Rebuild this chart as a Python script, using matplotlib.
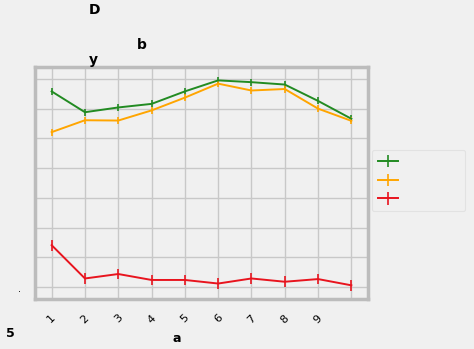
import numpy as np
import matplotlib
matplotlib.use('Agg')
import matplotlib.pyplot as plt

################################################################################
# data
x = np.arange(10)
tick_labels = ['1', '2', '3', '4', '5', '6', '7', '8', '9', '']
green  = [6.58, 5.88, 6.04, 6.16, 6.58, 6.95, 6.89, 6.81, 6.26, 5.66]
orange = [5.21, 5.61, 5.60, 5.94, 6.37, 6.84, 6.61, 6.66, 6.00, 5.59]
red    = [1.41, 0.29, 0.44, 0.24, 0.24, 0.12, 0.29, 0.18, 0.27, 0.06]
err_green  = [0.12] * 10
err_orange = [0.12] * 10
err_red    = [0.18] * 10

bg = '#f0f0f0'
fig = plt.figure(figsize=(4.74, 3.49), dpi=100, facecolor=bg)
ax = fig.add_axes([35/474, 1-299/349, 333/474, 232/349], facecolor=bg)

ax.errorbar(x, green, yerr=err_green, color='#228b22', lw=1.4, elinewidth=1.2, label=' ')
ax.errorbar(x, orange, yerr=err_orange, color='#ffa500', lw=1.4, elinewidth=1.2, label=' ')
ax.errorbar(x, red, yerr=err_red, color='#e8141e', lw=1.4, elinewidth=1.2, label=' ')

ax.set_xlim(-0.5, 9.5)
ax.set_ylim(-0.4, 7.4)
ax.set_xticks(x)
ax.set_xticklabels(tick_labels, rotation=45, fontsize=8)
ax.set_yticks(np.arange(0, 8))
ax.set_yticklabels([''] * 8)
ax.tick_params(length=0, pad=10)
ax.grid(True, color='#c8c8c8', lw=1)
ax.set_axisbelow(True)
for s in ax.spines.values():
    s.set_color('#bcbcbc')
    s.set_linewidth(2.5)

leg = ax.legend(loc='center left', bbox_to_anchor=(1.012, 0.51), borderaxespad=0,
                frameon=True, facecolor=bg, edgecolor='#e2e2e2', fontsize=9,
                handlelength=1.6, handletextpad=0.5, borderpad=0.45, labelspacing=0.45)
leg.get_frame().set_linewidth(0.8)
leg.get_frame().set_alpha(1)
# legend box is wider than its entries
for t in leg.get_texts():
    t.set_text('              ')

fig.text(0.20, 0.971, 'D', fontsize=10, fontweight='bold', ha='center', va='center')
fig.text(0.30, 0.871, 'b', fontsize=10, fontweight='bold', ha='center', va='center')
fig.text(0.197, 0.828, 'y', fontsize=10, fontweight='bold', ha='center', va='center')
fig.text(0.373, 0.031, 'a', fontsize=9, fontweight='bold', ha='center', va='center')
fig.text(0.021, 0.043, '5', fontsize=9, fontweight='bold', ha='center', va='center')
fig.text(0.042, 0.172, '.', fontsize=7, ha='center', va='center')

fig.savefig('out.png', dpi=100, facecolor=bg)
